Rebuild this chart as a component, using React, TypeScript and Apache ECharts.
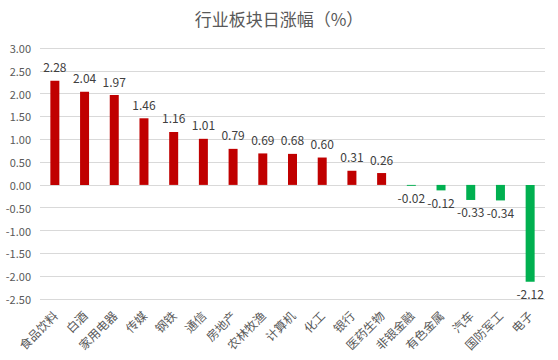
import React, { useEffect, useRef } from "react";
import * as echarts from "echarts";

const categories = ["食品饮料", "白酒", "家用电器", "传媒", "钢铁", "通信", "房地产", "农林牧渔", "计算机", "化工", "银行", "医药生物", "非银金融", "有色金属", "汽车", "国防军工", "电子"];
const values = [2.28, 2.04, 1.97, 1.46, 1.16, 1.01, 0.79, 0.69, 0.68, 0.6, 0.31, 0.26, -0.02, -0.12, -0.33, -0.34, -2.12];
const titleText = "行业板块日涨幅（%）";

const FONT = "'Noto Sans CJK SC', 'Noto Sans', sans-serif";
const TEXT = "#595959";

export default function App() {
  const ref = useRef<HTMLDivElement>(null);
  useEffect(() => {
    if (!ref.current) return;
    const chart = echarts.init(ref.current, undefined, { renderer: "svg" });
    chart.setOption({
      animation: false,
      backgroundColor: "#ffffff",
      title: {
        text: titleText,
        left: "center",
        top: 5,
        textStyle: { color: TEXT, fontSize: 17, fontWeight: "normal", fontFamily: FONT },
      },
      grid: { left: 40, right: 13, top: 48, bottom: 61, containLabel: false },
      xAxis: {
        type: "category",
        data: categories,
        axisLine: { onZero: false, show: false },
        axisTick: { show: false },
        axisLabel: { interval: 0, rotate: 45, color: TEXT, fontSize: 12, fontFamily: FONT, margin: 14 },
      },
      yAxis: {
        type: "value",
        min: -2.5,
        max: 3,
        interval: 0.5,
        axisLine: { show: false },
        axisTick: { show: false },
        axisLabel: { color: TEXT, fontSize: 11, fontFamily: FONT, formatter: (v: number) => v.toFixed(2), margin: 9 },
        splitLine: { lineStyle: { color: "#D9D9D9", width: 1 } },
      },
      series: [
        {
          type: "bar",
          barWidth: 9,
          data: values.map((v) => ({
            value: v,
            itemStyle: { color: v >= 0 ? "#C00000" : "#00B050" },
            label: { position: v >= 0 ? "top" : "bottom", distance: v >= 0 ? 8 : 6 },
          })),
          label: {
            show: true,
            color: "#404040",
            fontSize: 12,
            fontFamily: FONT,
            formatter: (p: any) => Number(p.value).toFixed(2),
          },
        },
      ],
    });
    return () => chart.dispose();
  }, []);
  return <div ref={ref} style={{ width: 558, height: 360, position: "absolute", left: 0, top: 0 }} />;
}
